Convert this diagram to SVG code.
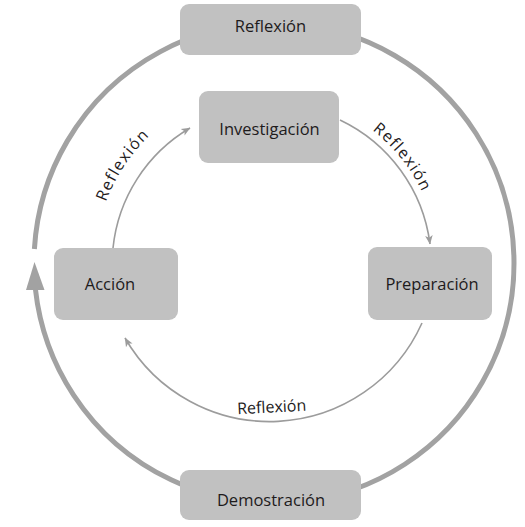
<svg xmlns="http://www.w3.org/2000/svg" width="525" height="527" viewBox="0 0 525 527">
  <style>
    .box { fill: #c1c1c1; }
    .lbl { font-family: "Open Sans", "DejaVu Sans", sans-serif; font-size: 16.5px; fill: #1e1b1c; text-anchor: middle; }
    .arc-lbl { font-family: "Open Sans", "DejaVu Sans", sans-serif; font-size: 16px; fill: #1e1b1c; letter-spacing: 1.3px; }
    .outer { fill: none; stroke: #a2a2a2; stroke-width: 5; }
    .inner { fill: none; stroke: #9c9c9c; stroke-width: 1.6; marker-end: url(#ah); }
  </style>
  <defs>
    <marker id="ah" viewBox="0 0 10 10" refX="9.5" refY="5" markerWidth="9" markerHeight="9" markerUnits="userSpaceOnUse" orient="auto">
      <path d="M0,0.8 L10,5 L0,9.2 L2.6,5 Z" fill="#9c9c9c"/>
    </marker>
    <path id="p1" d="M99.8,222.2 A176,176 0 0 1 166.1,121.7" fill="none"/>
    <path id="p2" d="M357.5,120.1 A167,167 0 0 1 429.1,209.2" fill="none"/>
  </defs>

  <g id="connectors">
    <path class="outer" d="M34.4,249 A240,240 0 1 1 35.4,289"/>
    <path d="M34.5,262 L44.5,290 L26,290 Z" fill="#a2a2a2"/>
    <path class="inner" d="M113,248 A158,158 0 0 1 190,128"/>
    <path class="inner" d="M340,120 A160,160 0 0 1 430,244"/>
    <path class="inner" d="M422,323 A167,167 0 0 1 125,338"/>
    <text class="arc-lbl"><textPath href="#p1" startOffset="50%" text-anchor="middle">Reflexión</textPath></text>
    <text class="arc-lbl"><textPath href="#p2" startOffset="50%" text-anchor="middle">Reflexión</textPath></text>
    <text class="lbl" style="font-size:16px" transform="translate(272,412.5) rotate(-3)" x="0" y="0">Reflexión</text>
  </g>

  <g id="reflexion">
    <rect class="box" x="180" y="4" width="181" height="51" rx="9"/>
    <text class="lbl" x="270.5" y="32">Reflexión</text>
  </g>
  <g id="investigacion">
    <rect class="box" x="199" y="91" width="140" height="72" rx="9"/>
    <text class="lbl" x="269.5" y="135">Investigación</text>
  </g>
  <g id="accion">
    <rect class="box" x="54" y="248" width="124" height="72" rx="9"/>
    <text class="lbl" x="110" y="289.5">Acción</text>
  </g>
  <g id="preparacion">
    <rect class="box" x="368" y="247" width="124" height="73" rx="9"/>
    <text class="lbl" x="432" y="289.5">Preparación</text>
  </g>
  <g id="demostracion">
    <rect class="box" x="180" y="470" width="181" height="50" rx="9"/>
    <text class="lbl" x="271" y="506">Demostración</text>
  </g>
</svg>
